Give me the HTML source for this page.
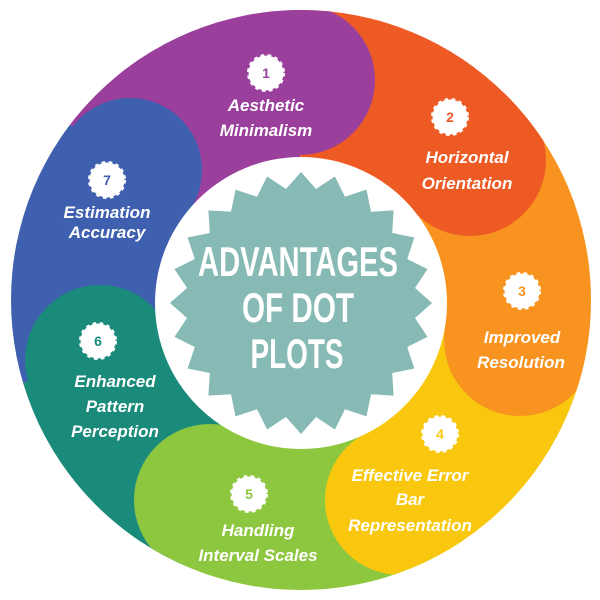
<!DOCTYPE html>
<html><head><meta charset="utf-8"><style>
html,body{margin:0;padding:0;background:#fff;width:600px;height:600px;overflow:hidden;}
svg{display:block;}
.t{font-family:"Liberation Sans",sans-serif;font-weight:bold;font-style:italic;font-size:17px;fill:#fff;text-anchor:middle;}
.n{font-family:"Liberation Sans",sans-serif;font-weight:bold;font-size:14px;text-anchor:middle;}
.h{font-family:"Liberation Sans Narrow","Liberation Sans",sans-serif;font-weight:bold;font-size:42px;fill:#fff;text-anchor:middle;}
.bd{fill:#fff;stroke:#fff;stroke-width:3;stroke-dasharray:3.5 3.5;}
</style></head><body>
<svg width="600" height="600" viewBox="0 0 600 600" xmlns="http://www.w3.org/2000/svg">
<defs><clipPath id="c"><circle cx="301" cy="300" r="290"/></clipPath></defs>
<g clip-path="url(#c)">
<polygon points="301,300 -97.3,-2.3 298.4,-200" fill="#9B3F9C"/>
<polygon points="301,300 298.4,-200 686.3,-18.7" fill="#EE5A24"/>
<polygon points="301,300 686.3,-18.7 792.8,390.3" fill="#F7931E"/>
<polygon points="301,300 792.8,390.3 522.6,748.3" fill="#F9C80E"/>
<polygon points="301,300 522.6,748.3 93.6,755" fill="#8DC63F"/>
<polygon points="301,300 93.6,755 -178.2,442.9" fill="#1A8A7A"/>
<polygon points="301,300 -178.2,442.9 -97.3,-2.3" fill="#3F5FAF"/>
<circle cx="300" cy="80" r="75" fill="#9B3F9C"/>
<circle cx="470" cy="160" r="76" fill="#EE5A24"/>
<circle cx="520" cy="340" r="76" fill="#F7931E"/>
<circle cx="400" cy="500" r="75" fill="#F9C80E"/>
<circle cx="210" cy="500" r="76" fill="#8DC63F"/>
<circle cx="100" cy="360" r="75" fill="#1A8A7A"/>
<circle cx="130" cy="170" r="72" fill="#3F5FAF"/>
</g>
<circle cx="301" cy="303" r="146" fill="#fff"/>
<polygon transform="translate(301,303)" fill="#87BAB4" points="0,-131 15,-114 33.9,-126.5 44,-106.2 65.5,-113.4 70,-91.2 92.6,-92.6 91.2,-70 113.4,-65.5 106.2,-44 126.5,-33.9 114,-15 131,0 114,15 126.5,33.9 106.2,44 113.4,65.5 91.2,70 92.6,92.6 70,91.2 65.5,113.4 44,106.2 33.9,126.5 15,114 0,131 -15,114 -33.9,126.5 -44,106.2 -65.5,113.4 -70,91.2 -92.6,92.6 -91.2,70 -113.4,65.5 -106.2,44 -126.5,33.9 -114,15 -131,0 -114,-15 -126.5,-33.9 -106.2,-44 -113.4,-65.5 -91.2,-70 -92.6,-92.6 -70,-91.2 -65.5,-113.4 -44,-106.2 -33.9,-126.5 -15,-114"/>

<circle class="bd" cx="266" cy="73" r="17.5"/><text class="n" x="266" y="78" fill="#9B3F9C">1</text>
<circle class="bd" cx="450" cy="117" r="17.5"/><text class="n" x="450" y="122" fill="#EE5A24">2</text>
<circle class="bd" cx="522" cy="291" r="17.5"/><text class="n" x="522" y="296" fill="#F7931E">3</text>
<circle class="bd" cx="440" cy="434" r="17.5"/><text class="n" x="440" y="439" fill="#F9C80E">4</text>
<circle class="bd" cx="249" cy="494" r="17.5"/><text class="n" x="249" y="499" fill="#8DC63F">5</text>
<circle class="bd" cx="98" cy="341" r="17.5"/><text class="n" x="98" y="346" fill="#1A8A7A">6</text>
<circle class="bd" cx="107" cy="180" r="17.5"/><text class="n" x="107" y="185" fill="#3F5FAF">7</text>

<text class="h" x="298" y="276" textLength="200" lengthAdjust="spacingAndGlyphs">ADVANTAGES</text>
<text class="h" x="298" y="322" textLength="112" lengthAdjust="spacingAndGlyphs">OF DOT</text>
<text class="h" x="297" y="368" textLength="93" lengthAdjust="spacingAndGlyphs">PLOTS</text>

<text class="t" x="266" y="111">Aesthetic</text>
<text class="t" x="266" y="136">Minimalism</text>
<text class="t" x="467" y="163">Horizontal</text>
<text class="t" x="467" y="189">Orientation</text>
<text class="t" x="522" y="343">Improved</text>
<text class="t" x="521" y="368">Resolution</text>
<text class="t" x="410" y="481">Effective Error</text>
<text class="t" x="410" y="505">Bar</text>
<text class="t" x="410" y="531">Representation</text>
<text class="t" x="258" y="536">Handling</text>
<text class="t" x="258" y="561">Interval Scales</text>
<text class="t" x="115" y="387">Enhanced</text>
<text class="t" x="115" y="412">Pattern</text>
<text class="t" x="115" y="437">Perception</text>
<text class="t" x="107" y="218">Estimation</text>
<text class="t" x="107" y="238">Accuracy</text>
</svg>
</body></html>
